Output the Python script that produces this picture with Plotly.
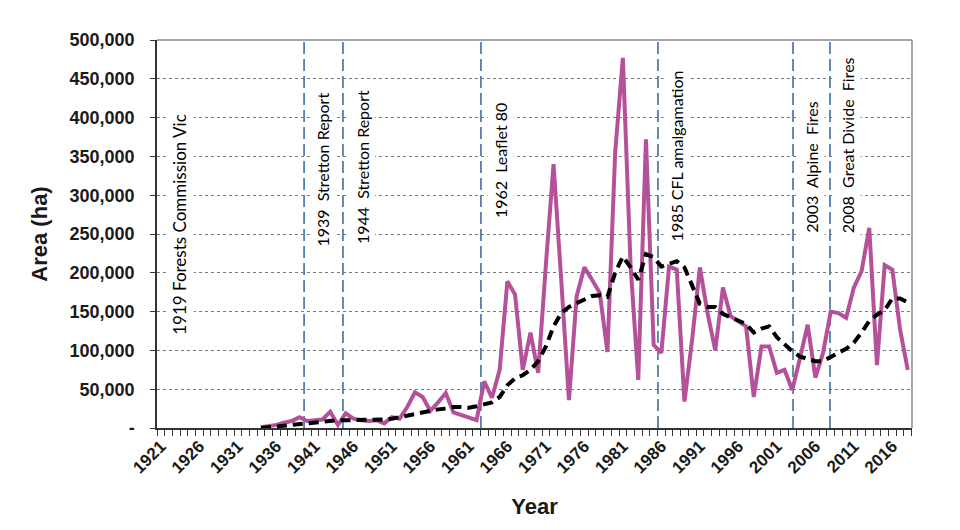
import plotly.graph_objects as go

years = list(range(1934, 2019))
annual_area = [
    1000, 2000, 4000, 7000, 9000, 14000, 9000, 10000, 11000, 21000,   # 1934-1943
    4000, 19000, 12000, 10000, 9000, 10000, 6000, 14000, 12000, 27000,  # 1944-1953
    46000, 40000, 22000, 33000, 45000, 20000, 17000, 14000, 10000, 60000,  # 1954-1963
    39000, 75000, 189000, 172000, 75000, 123000, 71000, 210000, 340000, 190000,  # 1964-1973
    36000, 170000, 207000, 191000, 174000, 98000, 355000, 477000, 210000, 62000,  # 1974-1983
    372000, 107000, 97000, 208000, 204000, 34000, 114000, 207000, 148000, 100000,  # 1984-1993
    181000, 144000, 137000, 131000, 40000, 105000, 105000, 71000, 75000, 49000,  # 1994-2003
    90000, 133000, 65000, 97000, 150000, 148000, 142000, 181000, 202000, 258000,  # 2004-2013
    81000, 210000, 204000, 127000, 75000,  # 2014-2018
]
moving_avg = [
    0, 1000, 2000, 3000, 4000, 6000, 7000, 7000, 8000, 9000,   # 1934-1943
    10000, 10000, 10000, 10000, 10000, 10000, 11000, 12000, 14000, 16000,  # 1944-1953
    19000, 20000, 22000, 24000, 25000, 27000, 27000, 26000, 28000, 31000,  # 1954-1963
    33000, 40000, 55000, 64000, 68000, 75000, 86000, 105000, 131000, 148000,  # 1964-1973
    156000, 161000, 166000, 170000, 171000, 169000, 200000, 221000, 207000, 191000,  # 1974-1983
    224000, 220000, 208000, 211000, 215000, 207000, 185000, 160000, 156000, 156000,  # 1984-1993
    147000, 143000, 139000, 134000, 123000, 128000, 131000, 117000, 108000, 99000,  # 1994-2003
    92000, 89000, 86000, 86000, 92000, 97000, 102000, 110000, 123000, 138000,  # 2004-2013
    146000, 152000, 167000, 167000, 162000,  # 2014-2018
]

x_tick_years = list(range(1921, 2017, 5))
y_tick_vals = list(range(0, 500001, 50000))
y_tick_text = ["-"] + [f"{v:,}" for v in y_tick_vals[1:]]

event_labels = [
    "1939  Stretton Report", "1944  Stretton Report", "1962  Leaflet 80",
    "1985 CFL amalgamation", "2003  Alpine  Fires", "2008  Great Divide  Fires",
]
event_line_x = [1939.6, 1944.65, 1962.57, 1985.56, 2003.1, 2007.9]
early_label = "1919 Forests Commission Vic"

# label placement (x in year units, y in ha)
label_pos = [(1942.06, 333000), (1947.1, 336000), (1965.05, 344000),
             (1988.0, 351000), (2005.5, 336000), (2010.2, 364000)]
early_pos = (1923.5, 262000)

fig = go.Figure()
fig.add_trace(go.Scatter(x=years, y=annual_area, mode="lines",
                         line=dict(color="#b5519b", width=4), showlegend=False))
fig.add_trace(go.Scatter(x=years, y=moving_avg, mode="lines",
                         line=dict(color="black", width=4, dash="10px,6px"), showlegend=False))

for xv in event_line_x:
    fig.add_shape(type="line", xref="x", yref="paper", x0=xv, x1=xv, y0=0, y1=1,
                  line=dict(color="#3e6fa6", width=1.6, dash="12px,5px"), layer="below")

ann_font = dict(family="Lato, Open Sans, sans-serif", size=16, color="black")
for (lx, ly), txt in zip(label_pos, event_labels):
    fig.add_annotation(x=lx, y=ly, xref="x", yref="y", text=txt, showarrow=False,
                       textangle=-90, font=ann_font, bgcolor="white", borderpad=3)
fig.add_annotation(x=early_pos[0], y=early_pos[1], xref="x", yref="y", text=early_label,
                   showarrow=False, textangle=-90, font=dict(ann_font, size=17),
                   bgcolor="white", borderpad=3)

# top and right frame
fig.add_shape(type="line", xref="paper", yref="paper", x0=0, x1=1, y0=1, y1=1,
              line=dict(color="#8a8a8a", width=1.5))
fig.add_shape(type="line", xref="paper", yref="paper", x0=1, x1=1, y0=0, y1=1,
              line=dict(color="#8a8a8a", width=1.5))

axis_font = dict(family="Liberation Sans, Arial, sans-serif", size=18, color="#1a1a1a")
fig.update_layout(
    width=960, height=530,
    margin=dict(l=157, r=48, t=40, b=102),
    plot_bgcolor="white", paper_bgcolor="white",
    xaxis=dict(
        range=[1920.5, 2018.55], tickmode="array", tickvals=x_tick_years,
        ticktext=[str(v) for v in x_tick_years], tickangle=-45,
        ticks="", showgrid=False, zeroline=False,
        showline=True, linecolor="#333", linewidth=1.5,
        tickfont=dict(axis_font, size=17),
        minor=dict(tick0=1920.5, dtick=1, ticks="outside", ticklen=6,
                   tickcolor="#333", tickwidth=1, showgrid=False),
        title=dict(text="<b>Year</b>", font=dict(family="Liberation Sans, Arial", size=22, color="#1a1a1a"),
                   standoff=22),
    ),
    yaxis=dict(
        range=[0, 500000], tickmode="array", tickvals=y_tick_vals, ticktext=y_tick_text,
        ticks="outside", ticklen=5, tickcolor="#333",
        showgrid=True, gridcolor="#7a7a7a", griddash="dot", gridwidth=1,
        zeroline=False, showline=True, linecolor="#333", linewidth=1.5,
        tickfont=axis_font, ticklabelstandoff=12,
        title=dict(text="<b>Area (ha)</b>", font=dict(family="Liberation Sans, Arial", size=22, color="#1a1a1a"),
                   standoff=16),
    ),
)
fig.update_xaxes(tickfont_weight="bold")
fig.update_yaxes(tickfont_weight="bold")

fig.write_html("out.html")
